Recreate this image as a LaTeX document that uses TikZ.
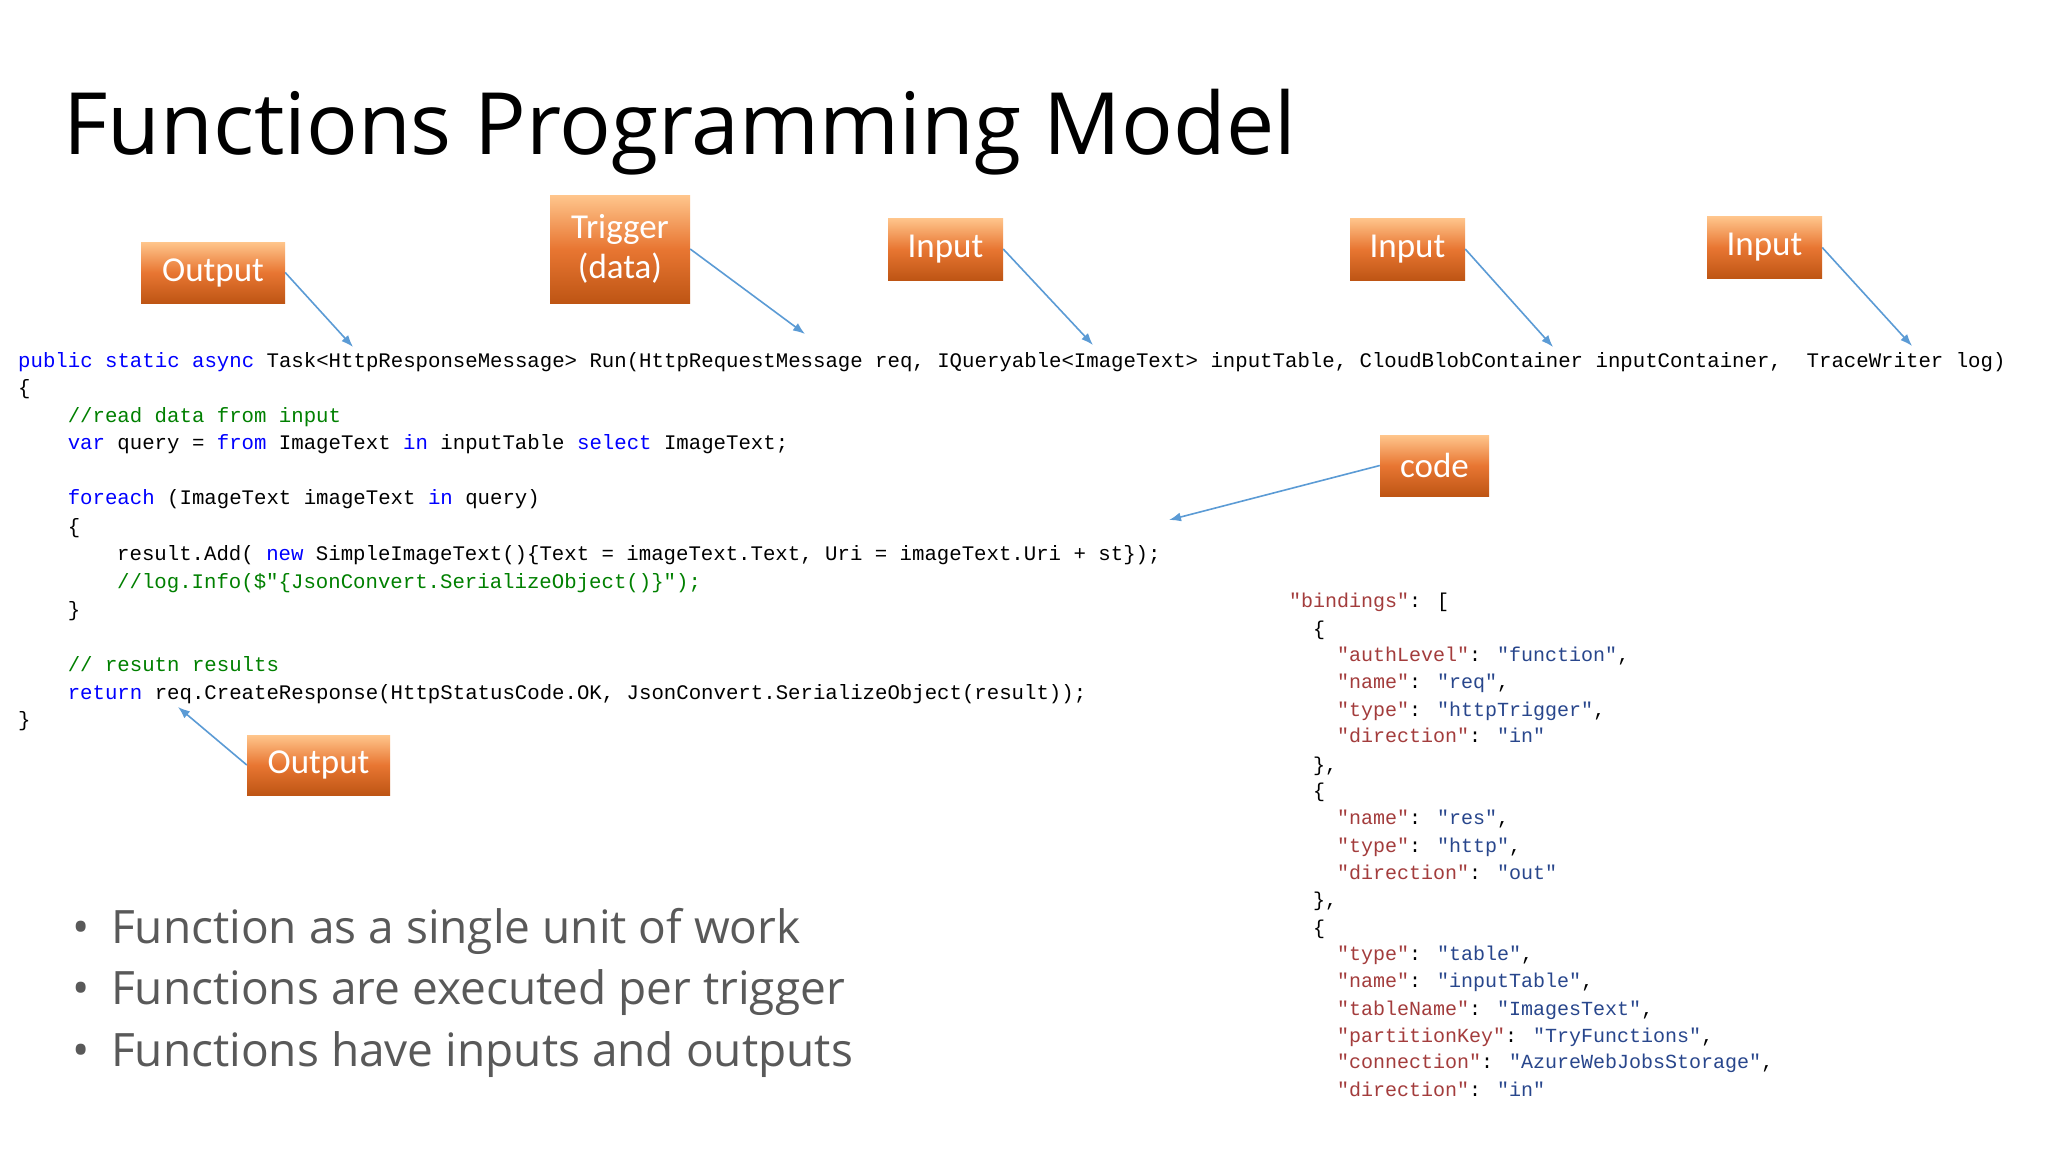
\documentclass[tikz,border=0pt]{standalone}
\usepackage{fontspec}
\setmainfont{Open Sans}
\newfontfamily\codefont{Liberation Mono}
\newfontfamily\boxfont{Carlito}
\usetikzlibrary{arrows.meta}
\definecolor{kw}{RGB}{0,0,255}
\definecolor{cm}{RGB}{0,128,0}
\definecolor{jk}{RGB}{163,60,60}
\definecolor{jv}{RGB}{40,70,140}
\definecolor{arr}{RGB}{91,155,213}
\definecolor{bul}{RGB}{89,89,89}
\tikzset{
  tag/.style={top color=orange!45!white, bottom color={rgb,255:red,190;green,85;blue,20}, middle color={rgb,255:red,232;green,118;blue,50}, draw=none, inner sep=0pt, text=white, font=\boxfont\fontsize{35}{40}\selectfont, align=center},
  conn/.style={draw=arr, line width=1.6pt, -{Latex[length=12pt,width=9pt]}},
  code/.style={anchor=base west, inner sep=0pt, font=\codefont\fontsize{20.7}{24}\selectfont},
  json/.style={anchor=base west, inner sep=0pt, font=\codefont\fontsize{20}{24}\selectfont},
  bullet/.style={anchor=base west, inner sep=0pt, text=bul, font=\fontsize{46}{52}\selectfont}
}
\newcommand{\K}[1]{\textcolor{kw}{#1}}
\newcommand{\C}[1]{\textcolor{cm}{#1}}
\newcommand{\JK}[1]{\textcolor{jk}{#1}}
\newcommand{\JV}[1]{\textcolor{jv}{#1}}
\begin{document}
\begin{tikzpicture}[x=1pt,y=-1pt]
\useasboundingbox[fill=white] (0,0) rectangle (2048,1152);
\node[anchor=base west, inner sep=0pt, font=\fontsize{86}{96}\selectfont] (title) at (63,154) {Functions Programming Model};
% code
\node[code] (c1) at (18,367) {\K{public} \K{static} \K{async} Task<HttpResponseMessage> Run(HttpRequestMessage req, IQueryable<ImageText> inputTable, CloudBlobContainer inputContainer,~ TraceWriter log)};
\node[code] (c2) at (18,394) {\{};
\node[code] (c3) at (67.6,422) {\C{//read data from input}};
\node[code] (c4) at (67.6,449) {\K{var} query = \K{from} ImageText \K{in} inputTable \K{select} ImageText;};
\node[code] (c5) at (67.6,504) {\K{foreach} (ImageText imageText \K{in} query)};
\node[code] (c6) at (67.6,533) {\{};
\node[code] (c7) at (117,560) {result.Add( \K{new} SimpleImageText()\{Text = imageText.Text, Uri = imageText.Uri + st\});};
\node[code] (c8) at (117,588) {\C{//log.Info(\$"\{JsonConvert.SerializeObject()\}");}};
\node[code] (c9) at (67.6,616) {\}};
\node[code] (c10) at (67.6,671) {\C{// resutn results}};
\node[code] (c11) at (67.6,699) {\K{return} req.CreateResponse(HttpStatusCode.OK, JsonConvert.SerializeObject(result));};
\node[code] (c12) at (18,726) {\}};
% json
\node[json] (j1) at (1289,607) {\JK{"bindings"}: [};
\node[json] (j2) at (1313,635) {\{};
\node[json] (j3) at (1337,661) {\JK{"authLevel"}: \JV{"function"},};
\node[json] (j4) at (1337,688) {\JK{"name"}: \JV{"req"},};
\node[json] (j5) at (1337,716) {\JK{"type"}: \JV{"httpTrigger"},};
\node[json] (j6) at (1337,742) {\JK{"direction"}: \JV{"in"}};
\node[json] (j7) at (1313,771) {\},};
\node[json] (j8) at (1313,797) {\{};
\node[json] (j9) at (1337,824) {\JK{"name"}: \JV{"res"},};
\node[json] (j10) at (1337,852) {\JK{"type"}: \JV{"http"},};
\node[json] (j11) at (1337,879) {\JK{"direction"}: \JV{"out"}};
\node[json] (j12) at (1313,906) {\},};
\node[json] (j13) at (1313,934) {\{};
\node[json] (j14) at (1337,960) {\JK{"type"}: \JV{"table"},};
\node[json] (j15) at (1337,987) {\JK{"name"}: \JV{"inputTable"},};
\node[json] (j16) at (1337,1015) {\JK{"tableName"}: \JV{"ImagesText"},};
\node[json] (j17) at (1337,1042) {\JK{"partitionKey"}: \JV{"TryFunctions"},};
\node[json] (j18) at (1337,1068) {\JK{"connection"}: \JV{"AzureWebJobsStorage"},};
\node[json] (j19) at (1337,1096) {\JK{"direction"}: \JV{"in"}};
% tags
\node[tag, minimum width=144pt, minimum height=61pt] (out1) at (213,272.5) {Output};
\node[tag, minimum width=140pt, minimum height=108pt] (trig) at (620,249) {Trigger\\(data)};
\node[tag, minimum width=115pt, minimum height=62pt] (in1) at (945.5,249) {Input};
\node[tag, minimum width=115pt, minimum height=62pt] (in2) at (1407.5,249) {Input};
\node[tag, minimum width=115pt, minimum height=62pt] (in3) at (1764.5,247.5) {Input};
\node[tag, minimum width=109pt, minimum height=61pt] (codeb) at (1434.5,465.5) {code};
\node[tag, minimum width=143pt, minimum height=60pt] (out2) at (318.5,765) {Output};
\coordinate (a1) at (353,347);
\coordinate (a2) at (805,334);
\coordinate (a3) at (1093,345);
\coordinate (a4) at (1553,347);
\coordinate (a5) at (1912,346);
\coordinate (a6) at (1169,520);
\coordinate (a7) at (178,707);
\draw[conn] (out1.east) -- (a1);
\draw[conn] (trig.east) -- (a2);
\draw[conn] (in1.east) -- (a3);
\draw[conn] (in2.east) -- (a4);
\draw[conn] (in3.east) -- (a5);
\draw[conn] (codeb.west) -- (a6);
\draw[conn] (out2.west) -- (a7);
% bullets
\node[bullet] (b1) at (72,943) {•};
\node[bullet] (t1) at (111,943) {Function as a single unit of work};
\node[bullet] (b2) at (72,1004) {•};
\node[bullet] (t2) at (111,1004) {Functions are executed per trigger};
\node[bullet] (b3) at (72,1066) {•};
\node[bullet] (t3) at (111,1066) {Functions have inputs and outputs};
\end{tikzpicture}
\end{document}
